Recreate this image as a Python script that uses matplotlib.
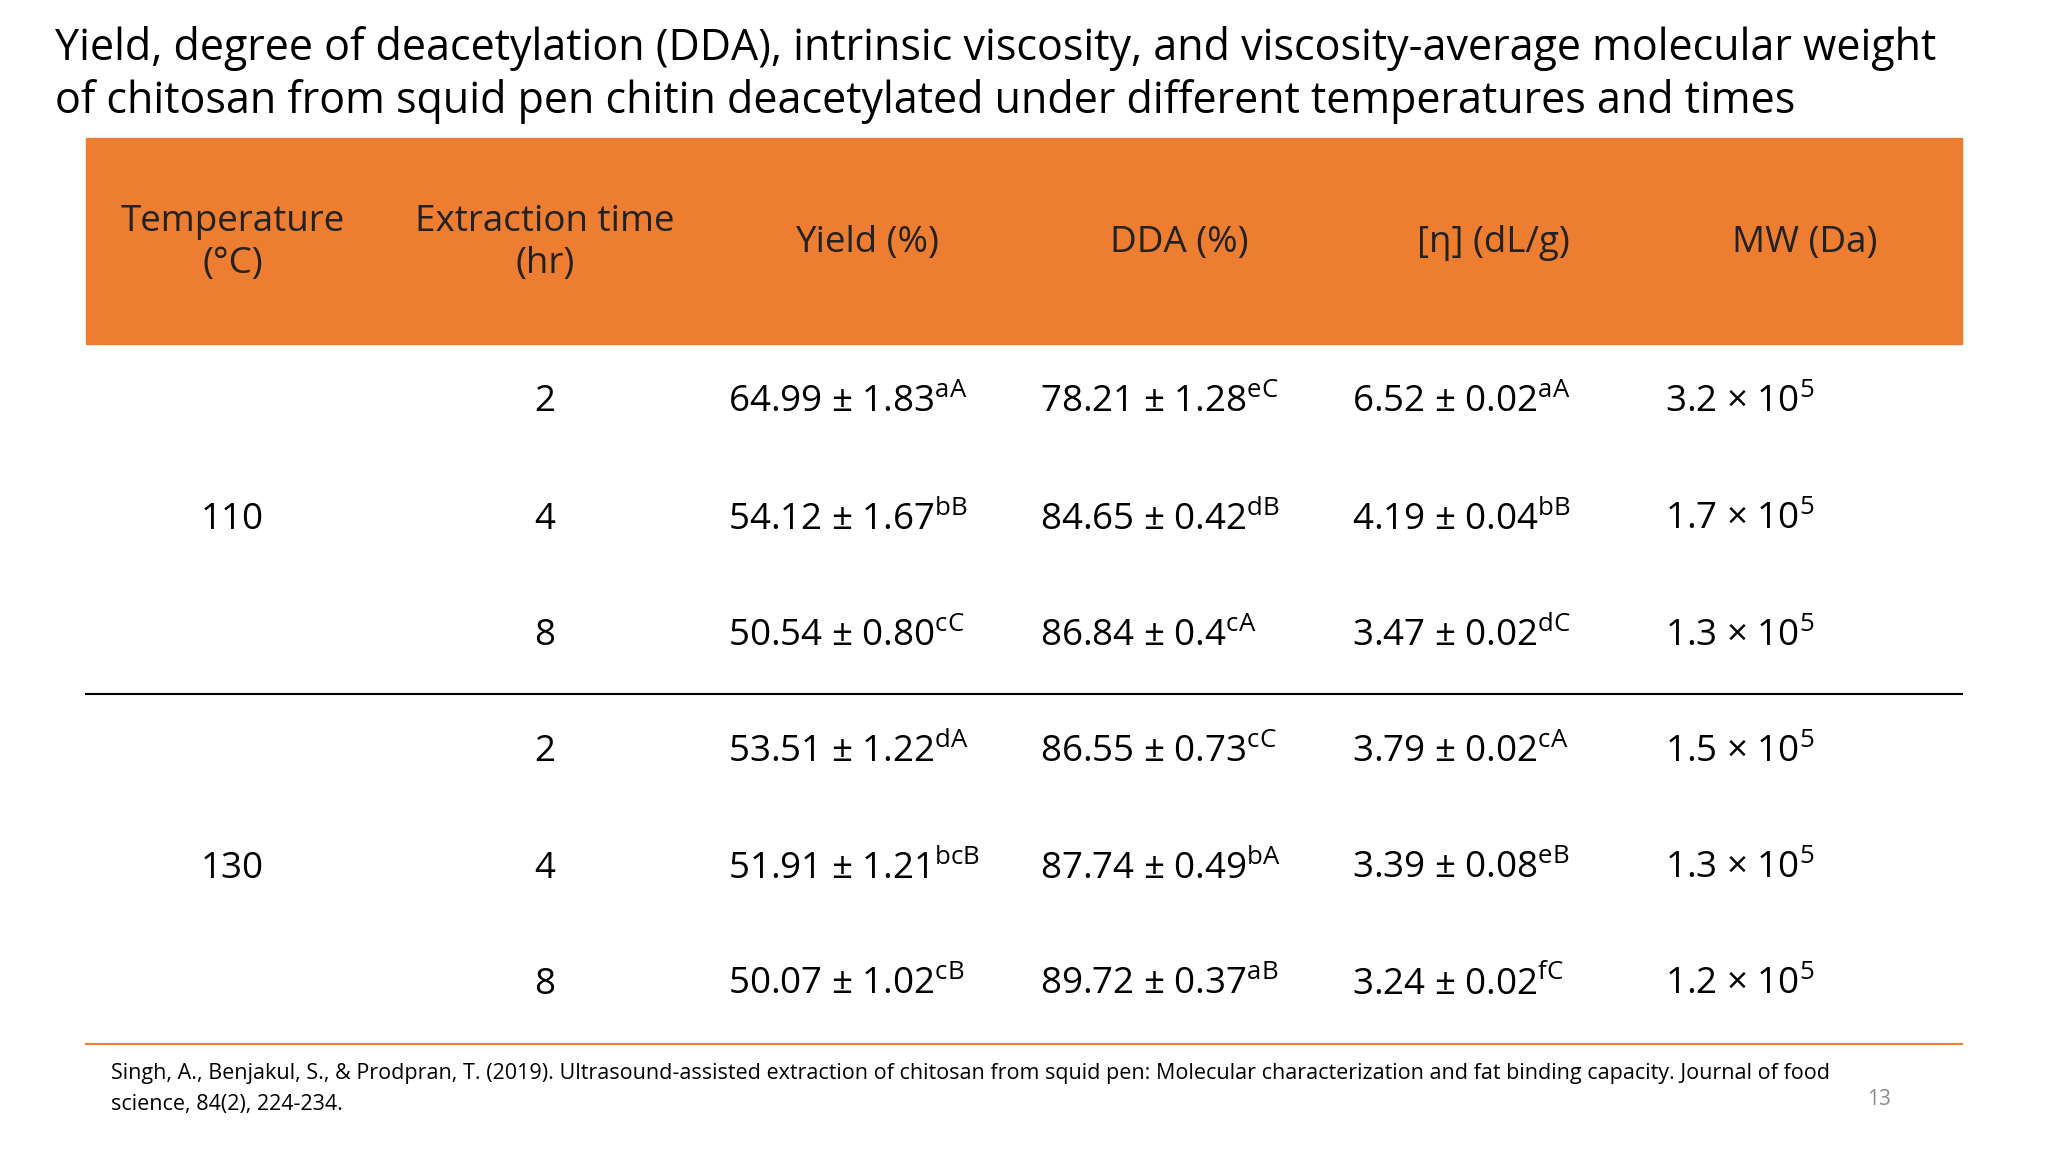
import matplotlib.pyplot as plt
from matplotlib.patches import Rectangle
from matplotlib.lines import Line2D

plt.rcParams['font.family'] = ['Open Sans', 'DejaVu Sans']
plt.rcParams['mathtext.fontset'] = 'custom'
plt.rcParams['mathtext.rm'] = 'Open Sans'

W, H = 1568, 882  # layout measured in reference pixels

title = ["Yield, degree of deacetylation (DDA), intrinsic viscosity, and viscosity-average molecular weight",
         "of chitosan from squid pen chitin deacetylated under different temperatures and times"]
headers = ["Temperature\n(°C)", "Extraction time\n(hr)", "Yield (%)", "DDA (%)", "[η] (dL/g)", "MW (Da)"]
temps = ["110", "130"]
times = ["2", "4", "8", "2", "4", "8"]
yields = [("64.99 ± 1.83", "aA"), ("54.12 ± 1.67", "bB"), ("50.54 ± 0.80", "cC"),
          ("53.51 ± 1.22", "dA"), ("51.91 ± 1.21", "bcB"), ("50.07 ± 1.02", "cB")]
dda = [("78.21 ± 1.28", "eC"), ("84.65 ± 0.42", "dB"), ("86.84 ± 0.4", "cA"),
       ("86.55 ± 0.73", "cC"), ("87.74 ± 0.49", "bA"), ("89.72 ± 0.37", "aB")]
visc = [("6.52 ± 0.02", "aA"), ("4.19 ± 0.04", "bB"), ("3.47 ± 0.02", "dC"),
        ("3.79 ± 0.02", "cA"), ("3.39 ± 0.08", "eB"), ("3.24 ± 0.02", "fC")]
mw = ["3.2", "1.7", "1.3", "1.5", "1.3", "1.2"]
citation = ["Singh, A., Benjakul, S., & Prodpran, T. (2019). Ultrasound-assisted extraction of chitosan from squid pen: Molecular characterization and fat binding capacity. Journal of food",
            "science, 84(2), 224-234."]

orange = '#ED7D31'
fig = plt.figure(figsize=(20.48, 11.52), dpi=100)


def fx(x):
    return x / W


def fy(y):
    return 1 - y / H


def txt(x, y, s, **kw):
    fig.text(fx(x), fy(y), s, va='center', **kw)


for i, line in enumerate(title):
    txt(42, 37 + i * 41, line, fontsize=31)

fig.patches.append(Rectangle((fx(66), fy(263)), fx(1502) - fx(66), fy(106) - fy(263),
                             transform=fig.transFigure, color=orange))
head_x = [178, 417, 664, 903, 1143, 1382]
for x, h in zip(head_x, headers):
    txt(x, 186, h, fontsize=26.5, ha='center', color='#222222', linespacing=1.25)

fs = 26.5
row_y = [308, 398, 487, 576, 665, 754]
txt(178, row_y[1], temps[0], fontsize=fs, ha='center')
txt(178, row_y[4], temps[1], fontsize=fs, ha='center')
for i, y in enumerate(row_y):
    txt(417, y, times[i], fontsize=fs, ha='center')
    for x, col in zip([557, 796, 1035], [yields, dda, visc]):
        v, s = col[i]
        txt(x, y, v + r"$^{\mathrm{" + s + "}}$", fontsize=fs)
    txt(1275, y, mw[i] + " × 10$^{5}$", fontsize=fs)

fig.lines.append(Line2D([fx(66), fx(1502)], [fy(531)] * 2, transform=fig.transFigure,
                        color='black', lw=1.5))
fig.lines.append(Line2D([fx(66), fx(1502)], [fy(799)] * 2, transform=fig.transFigure,
                        color=orange, lw=1.5))
for i, line in enumerate(citation):
    txt(85, 822 + i * 24, line, fontsize=15.5)
txt(1448, 842, "13", fontsize=15, ha='right', color='#8c8c8c')

fig.savefig('out.png', dpi=100)
